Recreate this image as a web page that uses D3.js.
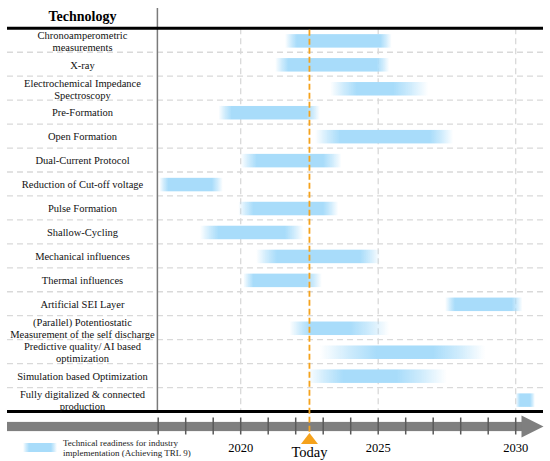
<!DOCTYPE html>
<html>
<head>
<meta charset="utf-8">
<script src="https://cdn.jsdelivr.net/npm/d3@7/dist/d3.min.js"></script>
<style>
  html, body { margin: 0; padding: 0; background: #fff; }
  svg { display: block; }
  text { font-family: "Liberation Serif", "Times New Roman", serif; }
</style>
</head>
<body>
<svg id="chart" width="550" height="461"></svg>
<script>
// ---------- DATA ----------
const technologies = [
  "Chronoamperometric\nmeasurements",
  "X-ray",
  "Electrochemical Impedance\nSpectroscopy",
  "Pre-Formation",
  "Open Formation",
  "Dual-Current Protocol",
  "Reduction of Cut-off voltage",
  "Pulse Formation",
  "Shallow-Cycling",
  "Mechanical influences",
  "Thermal influences",
  "Artificial SEI Layer",
  "(Parallel) Potentiostatic\nMeasurement of the self discharge",
  "Predictive quality/ AI based\noptimization",
  "Simulation based Optimization",
  "Fully digitalized & connected\nproduction"
];
// readiness window (years): faint start, full start, full end, faint end
const fadeStart = [2021.61, 2021.25, 2023.25, 2019.19, 2022.70, 2020.00, 2017.04, 2019.91, 2018.52, 2020.56, 2020.09, 2027.43, 2021.77, 2022.88, 2022.40, 2030.00];
const fullStart = [2022.04, 2021.73, 2024.22, 2019.67, 2023.61, 2020.58, 2017.37, 2020.46, 2019.19, 2021.31, 2020.46, 2027.79, 2022.52, 2024.95, 2023.73, 2030.16];
const fullEnd   = [2025.07, 2024.95, 2025.55, 2022.40, 2026.88, 2023.00, 2018.95, 2023.00, 2021.61, 2024.34, 2022.40, 2029.85, 2023.97, 2027.00, 2025.67, 2030.52];
const fadeEnd   = [2025.49, 2025.40, 2026.82, 2022.88, 2027.73, 2023.67, 2019.35, 2023.55, 2022.28, 2025.07, 2022.95, 2030.25, 2025.40, 2028.88, 2027.49, 2030.70];
const tickYears = [2017, 2018, 2019, 2020, 2021, 2022, 2023, 2024, 2025, 2026, 2027, 2028, 2029, 2030];
const yearLabels = [2020, 2025, 2030];
const gridYears = [2020, 2025, 2030];
const today = 2022.5;
const headerText = "Technology";
const legendLines = ["Technical readiness for industry", "implementation (Achieving TRL 9)"];

// ---------- LAYOUT ----------
const svg = d3.select("#chart");
const barColor = "#a8dcfa";
const orange = "#f5a21c";
const x = d3.scaleLinear().domain([2017, 2030]).range([158.2, 515.7]);
const y = d3.scaleBand().domain(d3.range(technologies.length)).range([28.3, 411.5]).padding(0);
const leftEdge = 7, rightEdge = 543;
const labelX = 82.5;
const barH = 13.5;

const defs = svg.append("defs");
function addGradient(id, a, b, c, d) {
  const g = defs.append("linearGradient").attr("id", id)
    .attr("x1", "0%").attr("x2", "100%").attr("y1", "0%").attr("y2", "0%");
  const span = d - a;
  const o1 = (b - a) / span, o2 = (c - a) / span;
  g.append("stop").attr("offset", 0).attr("stop-color", barColor).attr("stop-opacity", 0);
  g.append("stop").attr("offset", o1 * 0.5).attr("stop-color", barColor).attr("stop-opacity", 0.55);
  g.append("stop").attr("offset", o1).attr("stop-color", barColor).attr("stop-opacity", 1);
  g.append("stop").attr("offset", o2).attr("stop-color", barColor).attr("stop-opacity", 1);
  g.append("stop").attr("offset", o2 + (1 - o2) * 0.5).attr("stop-color", barColor).attr("stop-opacity", 0.55);
  g.append("stop").attr("offset", 1).attr("stop-color", barColor).attr("stop-opacity", 0);
}
defs.append("filter").attr("id", "soft").attr("x", "-5%").attr("y", "-30%").attr("width", "110%").attr("height", "160%")
  .append("feGaussianBlur").attr("stdDeviation", "0.6 0.6");

// row separators (dashed)
svg.append("g").selectAll("line")
  .data(d3.range(1, technologies.length))
  .join("line")
  .attr("x1", leftEdge).attr("x2", rightEdge)
  .attr("y1", i => y(i)).attr("y2", i => y(i))
  .attr("stroke", "#d9d9d9").attr("stroke-width", 1.3)
  .attr("stroke-dasharray", "6,4");

// vertical gridlines
svg.append("g").selectAll("line")
  .data(gridYears)
  .join("line")
  .attr("x1", d => x(d)).attr("x2", d => x(d))
  .attr("y1", y.range()[0]).attr("y2", y.range()[1])
  .attr("stroke", "#d9d9d9").attr("stroke-width", 1.3)
  .attr("stroke-dasharray", "6,4");

// bars
const barsG = svg.append("g");
technologies.forEach((t, i) => {
  addGradient("g" + i, fadeStart[i], fullStart[i], fullEnd[i], fadeEnd[i]);
});
barsG.selectAll("rect")
  .data(technologies.map((t, i) => i))
  .join("rect")
  .attr("x", i => x(fadeStart[i]))
  .attr("width", i => x(fadeEnd[i]) - x(fadeStart[i]))
  .attr("y", i => y(i) + y.bandwidth() / 2 - barH / 2 + 0.6)
  .attr("height", barH)
  .attr("fill", i => "url(#g" + i + ")")
  .attr("filter", "url(#soft)");

// vertical separator
svg.append("line")
  .attr("x1", x(2017) - 0.8).attr("x2", x(2017) - 0.8)
  .attr("y1", 8).attr("y2", y.range()[1])
  .attr("stroke", "#7a7a7a").attr("stroke-width", 1.5);

// thick horizontal lines
[y.range()[0], y.range()[1]].forEach(v => {
  svg.append("line")
    .attr("x1", leftEdge).attr("x2", rightEdge)
    .attr("y1", v).attr("y2", v)
    .attr("stroke", "#000").attr("stroke-width", 3);
});

// header
svg.append("text")
  .attr("x", labelX).attr("y", 21)
  .attr("text-anchor", "middle")
  .attr("font-size", 14).attr("font-weight", "bold")
  .attr("fill", "#000")
  .text(headerText);

// row labels
const labG = svg.append("g");
technologies.forEach((t, i) => {
  const lines = t.split("\n");
  const top = y(i);
  const txt = labG.append("text")
    .attr("text-anchor", "middle")
    .attr("font-size", 10.5)
    .attr("fill", "#111");
  if (lines.length === 1) {
    txt.append("tspan").attr("x", labelX).attr("y", top + y.bandwidth() / 2 + 4.3).text(lines[0]);
  } else {
    txt.append("tspan").attr("x", labelX).attr("y", top + 10.6).text(lines[0]);
    txt.append("tspan").attr("x", labelX).attr("y", top + 22.6).text(lines[1]);
  }
});

// timeline arrow
const arrowY = 426.5;
svg.append("rect")
  .attr("x", leftEdge).attr("y", arrowY - 4.6)
  .attr("width", 522 - leftEdge).attr("height", 9.2)
  .attr("fill", "#7f7f7f");
svg.append("path")
  .attr("d", `M521.5,${arrowY - 11}L543.5,${arrowY}L521.5,${arrowY + 11}Z`)
  .attr("fill", "#7f7f7f");
svg.append("g").selectAll("line")
  .data(tickYears)
  .join("line")
  .attr("x1", d => x(d)).attr("x2", d => x(d))
  .attr("y1", arrowY - 9).attr("y2", arrowY + 8)
  .attr("stroke", "#5a5a5a").attr("stroke-width", 1.5);

// year labels
svg.append("g").selectAll("text")
  .data(yearLabels)
  .join("text")
  .attr("x", d => x(d)).attr("y", 452)
  .attr("text-anchor", "middle")
  .attr("font-size", 12.5).attr("fill", "#000")
  .text(d => d);

// today line + marker
svg.append("line")
  .attr("x1", x(today)).attr("x2", x(today))
  .attr("y1", y.range()[0] + 1.5).attr("y2", 434)
  .attr("stroke", orange).attr("stroke-width", 1.8)
  .attr("stroke-dasharray", "6,3");
svg.append("path")
  .attr("d", `M${x(today)},433L${x(today) + 8.5},444L${x(today) - 8.5},444Z`)
  .attr("fill", orange);
svg.append("text")
  .attr("x", x(today)).attr("y", 456.5)
  .attr("text-anchor", "middle")
  .attr("font-size", 14.5).attr("fill", "#000")
  .text("Today");

// legend
addGradient("glegend", 0, 0.18, 0.82, 1);
svg.append("rect")
  .attr("x", 23).attr("y", 443).attr("width", 34).attr("height", 9)
  .attr("fill", "url(#glegend)")
  .attr("filter", "url(#soft)");
const legT = svg.append("text").attr("font-size", 9).attr("fill", "#222");
legT.append("tspan").attr("x", 63).attr("y", 445.5).text(legendLines[0]);
legT.append("tspan").attr("x", 63).attr("y", 456).text(legendLines[1]);
</script>
</body>
</html>
